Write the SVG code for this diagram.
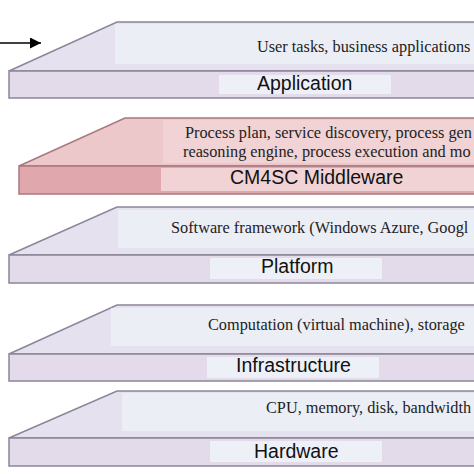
<svg xmlns="http://www.w3.org/2000/svg" width="474" height="474" viewBox="0 0 474 474">
<defs>
<style>
.face{fill:#e6e1ee;stroke:#8c8599;stroke-width:1.5}
.front{fill:#e3dbe9;stroke:#8c8599;stroke-width:1.5}
.inner{fill:#eceef6}
.lbl{fill:#eef0f7}
.mface{fill:#ecc8cb;stroke:#a8787e;stroke-width:1.5}
.mfront{fill:#e0a8ac;stroke:#a8787e;stroke-width:1.5}
.minner{fill:#f1d3d5}
.desc{font-family:"Liberation Serif","Times New Roman",serif;font-size:16.3px;fill:#222}
.name{font-family:"Liberation Sans",Arial,sans-serif;font-size:19.5px;fill:#111}
</style>
<marker id="ah" viewBox="0 0 10 10" refX="10" refY="5" markerWidth="15" markerHeight="11" markerUnits="userSpaceOnUse" orient="auto">
<path d="M0,0 L10,5 L0,10 z" fill="#000"/>
</marker>
</defs>
<g id="connectors">
<line x1="0" y1="43" x2="41" y2="43" stroke="#000" stroke-width="1.3" marker-end="url(#ah)"/>
</g>
<g id="application">
<polygon class="face" points="117,22 482,22 482,71 9,71"/>
<rect class="inner" x="115" y="24" width="367" height="40"/>
<rect class="front" x="9" y="71" width="473" height="27"/>
<rect class="lbl" x="219" y="75" width="172" height="19"/>
<text class="desc" x="257" y="52">User tasks, business applications</text>
<text class="name" x="257" y="90">Application</text>
</g>
<g id="middleware">
<polygon class="mface" points="125,118 482,118 482,166 19,166"/>
<rect class="minner" x="163" y="120" width="319" height="43"/>
<rect class="mfront" x="19" y="166" width="463" height="28"/>
<rect class="minner" x="161" y="168" width="321" height="23"/>
<text class="desc" x="185" y="138">Process plan, service discovery, process gen</text>
<text class="desc" x="183" y="157">reasoning engine, process execution and mo</text>
<text class="name" x="230" y="184">CM4SC Middleware</text>
</g>
<g id="platform">
<polygon class="face" points="117,207 482,207 482,255 9,255"/>
<rect class="inner" x="118" y="210" width="364" height="38"/>
<rect class="front" x="9" y="255" width="473" height="28"/>
<rect class="lbl" x="210" y="258" width="172" height="21"/>
<text class="desc" x="171" y="233">Software framework (Windows Azure, Googl</text>
<text class="name" x="261" y="273">Platform</text>
</g>
<g id="infrastructure">
<polygon class="face" points="117,305 482,305 482,354 9,354"/>
<rect class="inner" x="111" y="308" width="371" height="38"/>
<rect class="front" x="9" y="354" width="473" height="27"/>
<rect class="lbl" x="207" y="357" width="172" height="21"/>
<text class="desc" x="208" y="330">Computation (virtual machine), storage</text>
<text class="name" x="236" y="372">Infrastructure</text>
</g>
<g id="hardware">
<polygon class="face" points="117,391 482,391 482,438 9,438"/>
<rect class="inner" x="122" y="393" width="360" height="38"/>
<rect class="front" x="9" y="438" width="473" height="28"/>
<rect class="lbl" x="210" y="441" width="172" height="21"/>
<text class="desc" x="266" y="413">CPU, memory, disk, bandwidth</text>
<text class="name" x="254" y="458">Hardware</text>
</g>
</svg>
